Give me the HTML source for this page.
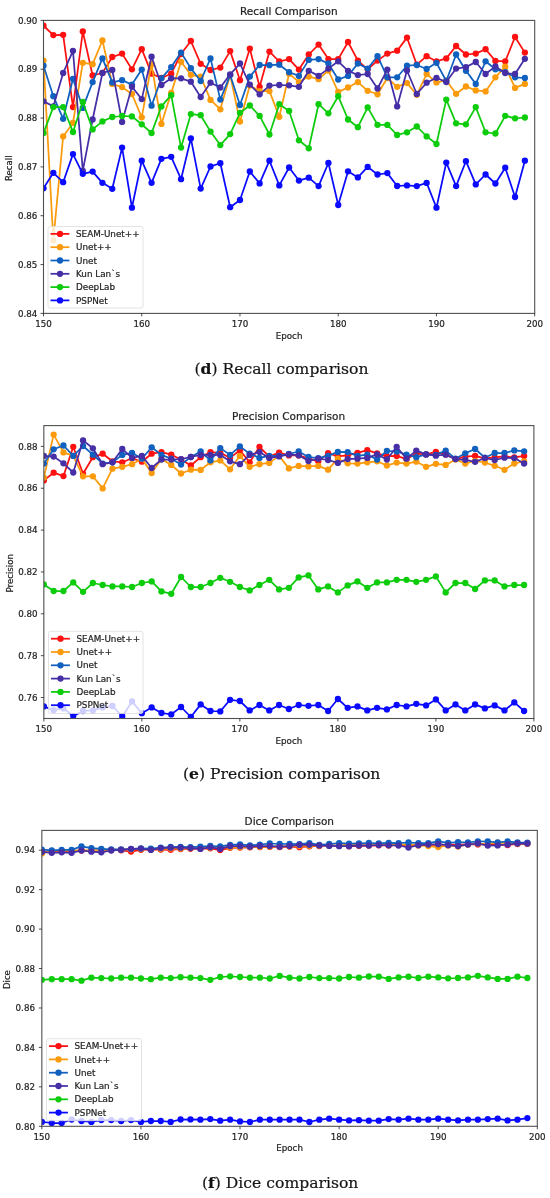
<!DOCTYPE html>
<html><head><meta charset="utf-8"><title>Comparison charts</title>
<style>
html,body{margin:0;padding:0;background:#fff;}
body{width:550px;height:1198px;overflow:hidden;}
svg{display:block;font-family:'DejaVu Sans', 'Liberation Sans', sans-serif;}
text{stroke:#2a2a2a;stroke-width:0.22px;}
</style></head><body>
<svg width="550" height="1198" viewBox="0 0 550 1198">
<rect width="550" height="1198" fill="#fff"/>
<clipPath id="c1"><rect x="43.5" y="20.4" width="491.20" height="293.00"/></clipPath>
<text x="288.8" y="14.7" font-size="10.5" text-anchor="middle" fill="#222">Recall Comparison</text>
<g clip-path="url(#c1)">
<polyline points="43.50,25.70 53.32,35.10 63.15,34.80 72.97,107.10 82.80,31.50 92.62,75.50 102.44,73.00 112.27,57.00 122.09,53.60 131.92,69.30 141.74,49.20 151.56,73.70 161.39,78.00 171.21,73.70 181.04,54.00 190.86,41.00 200.68,63.80 210.51,70.00 220.33,67.60 230.16,51.10 239.98,80.20 249.80,48.70 259.63,86.80 269.45,51.60 279.28,61.50 289.10,59.10 298.92,69.60 308.75,54.50 318.57,44.60 328.40,59.10 338.22,59.10 348.04,42.00 357.87,60.60 367.69,69.30 377.52,60.60 387.34,53.60 397.16,50.70 406.99,37.60 416.81,64.70 426.64,56.20 436.46,61.30 446.28,58.40 456.11,46.00 465.93,54.50 475.76,53.60 485.58,49.20 495.40,60.90 505.23,61.30 515.05,37.00 524.88,52.60" fill="none" stroke="#ff1010" stroke-width="1.75" stroke-linejoin="round"/>
<g fill="#ff1010"><circle cx="43.50" cy="25.70" r="3.15"/><circle cx="53.32" cy="35.10" r="3.15"/><circle cx="63.15" cy="34.80" r="3.15"/><circle cx="72.97" cy="107.10" r="3.15"/><circle cx="82.80" cy="31.50" r="3.15"/><circle cx="92.62" cy="75.50" r="3.15"/><circle cx="102.44" cy="73.00" r="3.15"/><circle cx="112.27" cy="57.00" r="3.15"/><circle cx="122.09" cy="53.60" r="3.15"/><circle cx="131.92" cy="69.30" r="3.15"/><circle cx="141.74" cy="49.20" r="3.15"/><circle cx="151.56" cy="73.70" r="3.15"/><circle cx="161.39" cy="78.00" r="3.15"/><circle cx="171.21" cy="73.70" r="3.15"/><circle cx="181.04" cy="54.00" r="3.15"/><circle cx="190.86" cy="41.00" r="3.15"/><circle cx="200.68" cy="63.80" r="3.15"/><circle cx="210.51" cy="70.00" r="3.15"/><circle cx="220.33" cy="67.60" r="3.15"/><circle cx="230.16" cy="51.10" r="3.15"/><circle cx="239.98" cy="80.20" r="3.15"/><circle cx="249.80" cy="48.70" r="3.15"/><circle cx="259.63" cy="86.80" r="3.15"/><circle cx="269.45" cy="51.60" r="3.15"/><circle cx="279.28" cy="61.50" r="3.15"/><circle cx="289.10" cy="59.10" r="3.15"/><circle cx="298.92" cy="69.60" r="3.15"/><circle cx="308.75" cy="54.50" r="3.15"/><circle cx="318.57" cy="44.60" r="3.15"/><circle cx="328.40" cy="59.10" r="3.15"/><circle cx="338.22" cy="59.10" r="3.15"/><circle cx="348.04" cy="42.00" r="3.15"/><circle cx="357.87" cy="60.60" r="3.15"/><circle cx="367.69" cy="69.30" r="3.15"/><circle cx="377.52" cy="60.60" r="3.15"/><circle cx="387.34" cy="53.60" r="3.15"/><circle cx="397.16" cy="50.70" r="3.15"/><circle cx="406.99" cy="37.60" r="3.15"/><circle cx="416.81" cy="64.70" r="3.15"/><circle cx="426.64" cy="56.20" r="3.15"/><circle cx="436.46" cy="61.30" r="3.15"/><circle cx="446.28" cy="58.40" r="3.15"/><circle cx="456.11" cy="46.00" r="3.15"/><circle cx="465.93" cy="54.50" r="3.15"/><circle cx="475.76" cy="53.60" r="3.15"/><circle cx="485.58" cy="49.20" r="3.15"/><circle cx="495.40" cy="60.90" r="3.15"/><circle cx="505.23" cy="61.30" r="3.15"/><circle cx="515.05" cy="37.00" r="3.15"/><circle cx="524.88" cy="52.60" r="3.15"/></g>
<polyline points="43.50,60.60 53.32,240.50 63.15,136.40 72.97,122.90 82.80,62.80 92.62,64.20 102.44,40.50 112.27,83.90 122.09,87.10 131.92,94.00 141.74,117.30 151.56,64.20 161.39,123.90 171.21,93.00 181.04,61.80 190.86,74.80 200.68,76.60 210.51,99.90 220.33,109.30 230.16,75.10 239.98,121.50 249.80,85.50 259.63,91.10 269.45,91.10 279.28,116.80 289.10,73.70 298.92,82.10 308.75,76.60 318.57,79.20 328.40,70.50 338.22,91.90 348.04,87.50 357.87,82.10 367.69,90.80 377.52,94.30 387.34,78.00 397.16,86.80 406.99,83.10 416.81,94.80 426.64,74.00 436.46,82.40 446.28,80.50 456.11,93.80 465.93,86.50 475.76,90.40 485.58,91.40 495.40,77.30 505.23,66.70 515.05,87.90 524.88,83.90" fill="none" stroke="#fb9a0a" stroke-width="1.75" stroke-linejoin="round"/>
<g fill="#fb9a0a"><circle cx="43.50" cy="60.60" r="3.15"/><circle cx="53.32" cy="240.50" r="3.15"/><circle cx="63.15" cy="136.40" r="3.15"/><circle cx="72.97" cy="122.90" r="3.15"/><circle cx="82.80" cy="62.80" r="3.15"/><circle cx="92.62" cy="64.20" r="3.15"/><circle cx="102.44" cy="40.50" r="3.15"/><circle cx="112.27" cy="83.90" r="3.15"/><circle cx="122.09" cy="87.10" r="3.15"/><circle cx="131.92" cy="94.00" r="3.15"/><circle cx="141.74" cy="117.30" r="3.15"/><circle cx="151.56" cy="64.20" r="3.15"/><circle cx="161.39" cy="123.90" r="3.15"/><circle cx="171.21" cy="93.00" r="3.15"/><circle cx="181.04" cy="61.80" r="3.15"/><circle cx="190.86" cy="74.80" r="3.15"/><circle cx="200.68" cy="76.60" r="3.15"/><circle cx="210.51" cy="99.90" r="3.15"/><circle cx="220.33" cy="109.30" r="3.15"/><circle cx="230.16" cy="75.10" r="3.15"/><circle cx="239.98" cy="121.50" r="3.15"/><circle cx="249.80" cy="85.50" r="3.15"/><circle cx="259.63" cy="91.10" r="3.15"/><circle cx="269.45" cy="91.10" r="3.15"/><circle cx="279.28" cy="116.80" r="3.15"/><circle cx="289.10" cy="73.70" r="3.15"/><circle cx="298.92" cy="82.10" r="3.15"/><circle cx="308.75" cy="76.60" r="3.15"/><circle cx="318.57" cy="79.20" r="3.15"/><circle cx="328.40" cy="70.50" r="3.15"/><circle cx="338.22" cy="91.90" r="3.15"/><circle cx="348.04" cy="87.50" r="3.15"/><circle cx="357.87" cy="82.10" r="3.15"/><circle cx="367.69" cy="90.80" r="3.15"/><circle cx="377.52" cy="94.30" r="3.15"/><circle cx="387.34" cy="78.00" r="3.15"/><circle cx="397.16" cy="86.80" r="3.15"/><circle cx="406.99" cy="83.10" r="3.15"/><circle cx="416.81" cy="94.80" r="3.15"/><circle cx="426.64" cy="74.00" r="3.15"/><circle cx="436.46" cy="82.40" r="3.15"/><circle cx="446.28" cy="80.50" r="3.15"/><circle cx="456.11" cy="93.80" r="3.15"/><circle cx="465.93" cy="86.50" r="3.15"/><circle cx="475.76" cy="90.40" r="3.15"/><circle cx="485.58" cy="91.40" r="3.15"/><circle cx="495.40" cy="77.30" r="3.15"/><circle cx="505.23" cy="66.70" r="3.15"/><circle cx="515.05" cy="87.90" r="3.15"/><circle cx="524.88" cy="83.90" r="3.15"/></g>
<polyline points="43.50,65.70 53.32,96.20 63.15,118.80 72.97,78.80 82.80,107.90 92.62,82.10 102.44,58.40 112.27,82.40 122.09,80.20 131.92,84.60 141.74,69.60 151.56,105.70 161.39,78.30 171.21,67.10 181.04,52.60 190.86,68.20 200.68,81.00 210.51,58.40 220.33,99.60 230.16,75.10 239.98,105.00 249.80,76.60 259.63,65.00 269.45,65.20 279.28,64.70 289.10,72.20 298.92,75.90 308.75,59.90 318.57,59.10 328.40,63.50 338.22,79.50 348.04,75.90 357.87,63.50 367.69,68.60 377.52,56.20 387.34,77.30 397.16,77.30 406.99,65.70 416.81,65.00 426.64,69.00 436.46,62.80 446.28,81.00 456.11,54.50 465.93,70.80 475.76,83.90 485.58,61.30 495.40,69.30 505.23,72.20 515.05,77.30 524.88,78.00" fill="none" stroke="#1060bf" stroke-width="1.75" stroke-linejoin="round"/>
<g fill="#1060bf"><circle cx="43.50" cy="65.70" r="3.15"/><circle cx="53.32" cy="96.20" r="3.15"/><circle cx="63.15" cy="118.80" r="3.15"/><circle cx="72.97" cy="78.80" r="3.15"/><circle cx="82.80" cy="107.90" r="3.15"/><circle cx="92.62" cy="82.10" r="3.15"/><circle cx="102.44" cy="58.40" r="3.15"/><circle cx="112.27" cy="82.40" r="3.15"/><circle cx="122.09" cy="80.20" r="3.15"/><circle cx="131.92" cy="84.60" r="3.15"/><circle cx="141.74" cy="69.60" r="3.15"/><circle cx="151.56" cy="105.70" r="3.15"/><circle cx="161.39" cy="78.30" r="3.15"/><circle cx="171.21" cy="67.10" r="3.15"/><circle cx="181.04" cy="52.60" r="3.15"/><circle cx="190.86" cy="68.20" r="3.15"/><circle cx="200.68" cy="81.00" r="3.15"/><circle cx="210.51" cy="58.40" r="3.15"/><circle cx="220.33" cy="99.60" r="3.15"/><circle cx="230.16" cy="75.10" r="3.15"/><circle cx="239.98" cy="105.00" r="3.15"/><circle cx="249.80" cy="76.60" r="3.15"/><circle cx="259.63" cy="65.00" r="3.15"/><circle cx="269.45" cy="65.20" r="3.15"/><circle cx="279.28" cy="64.70" r="3.15"/><circle cx="289.10" cy="72.20" r="3.15"/><circle cx="298.92" cy="75.90" r="3.15"/><circle cx="308.75" cy="59.90" r="3.15"/><circle cx="318.57" cy="59.10" r="3.15"/><circle cx="328.40" cy="63.50" r="3.15"/><circle cx="338.22" cy="79.50" r="3.15"/><circle cx="348.04" cy="75.90" r="3.15"/><circle cx="357.87" cy="63.50" r="3.15"/><circle cx="367.69" cy="68.60" r="3.15"/><circle cx="377.52" cy="56.20" r="3.15"/><circle cx="387.34" cy="77.30" r="3.15"/><circle cx="397.16" cy="77.30" r="3.15"/><circle cx="406.99" cy="65.70" r="3.15"/><circle cx="416.81" cy="65.00" r="3.15"/><circle cx="426.64" cy="69.00" r="3.15"/><circle cx="436.46" cy="62.80" r="3.15"/><circle cx="446.28" cy="81.00" r="3.15"/><circle cx="456.11" cy="54.50" r="3.15"/><circle cx="465.93" cy="70.80" r="3.15"/><circle cx="475.76" cy="83.90" r="3.15"/><circle cx="485.58" cy="61.30" r="3.15"/><circle cx="495.40" cy="69.30" r="3.15"/><circle cx="505.23" cy="72.20" r="3.15"/><circle cx="515.05" cy="77.30" r="3.15"/><circle cx="524.88" cy="78.00" r="3.15"/></g>
<polyline points="43.50,101.30 53.32,106.40 63.15,73.00 72.97,50.80 82.80,170.90 92.62,119.50 102.44,73.00 112.27,70.00 122.09,121.90 131.92,86.80 141.74,99.10 151.56,56.70 161.39,85.00 171.21,78.30 181.04,78.30 190.86,81.70 200.68,97.00 210.51,82.70 220.33,87.50 230.16,74.40 239.98,63.50 249.80,84.60 259.63,94.30 269.45,85.60 279.28,85.00 289.10,85.30 298.92,86.80 308.75,70.80 318.57,75.90 328.40,68.60 338.22,61.30 348.04,70.80 357.87,75.10 367.69,74.00 377.52,88.50 387.34,69.60 397.16,106.40 406.99,70.50 416.81,94.00 426.64,82.70 436.46,77.80 446.28,82.10 456.11,68.60 465.93,67.10 475.76,62.00 485.58,74.00 495.40,66.40 505.23,73.00 515.05,74.00 524.88,58.80" fill="none" stroke="#452ea6" stroke-width="1.75" stroke-linejoin="round"/>
<g fill="#452ea6"><circle cx="43.50" cy="101.30" r="3.15"/><circle cx="53.32" cy="106.40" r="3.15"/><circle cx="63.15" cy="73.00" r="3.15"/><circle cx="72.97" cy="50.80" r="3.15"/><circle cx="82.80" cy="170.90" r="3.15"/><circle cx="92.62" cy="119.50" r="3.15"/><circle cx="102.44" cy="73.00" r="3.15"/><circle cx="112.27" cy="70.00" r="3.15"/><circle cx="122.09" cy="121.90" r="3.15"/><circle cx="131.92" cy="86.80" r="3.15"/><circle cx="141.74" cy="99.10" r="3.15"/><circle cx="151.56" cy="56.70" r="3.15"/><circle cx="161.39" cy="85.00" r="3.15"/><circle cx="171.21" cy="78.30" r="3.15"/><circle cx="181.04" cy="78.30" r="3.15"/><circle cx="190.86" cy="81.70" r="3.15"/><circle cx="200.68" cy="97.00" r="3.15"/><circle cx="210.51" cy="82.70" r="3.15"/><circle cx="220.33" cy="87.50" r="3.15"/><circle cx="230.16" cy="74.40" r="3.15"/><circle cx="239.98" cy="63.50" r="3.15"/><circle cx="249.80" cy="84.60" r="3.15"/><circle cx="259.63" cy="94.30" r="3.15"/><circle cx="269.45" cy="85.60" r="3.15"/><circle cx="279.28" cy="85.00" r="3.15"/><circle cx="289.10" cy="85.30" r="3.15"/><circle cx="298.92" cy="86.80" r="3.15"/><circle cx="308.75" cy="70.80" r="3.15"/><circle cx="318.57" cy="75.90" r="3.15"/><circle cx="328.40" cy="68.60" r="3.15"/><circle cx="338.22" cy="61.30" r="3.15"/><circle cx="348.04" cy="70.80" r="3.15"/><circle cx="357.87" cy="75.10" r="3.15"/><circle cx="367.69" cy="74.00" r="3.15"/><circle cx="377.52" cy="88.50" r="3.15"/><circle cx="387.34" cy="69.60" r="3.15"/><circle cx="397.16" cy="106.40" r="3.15"/><circle cx="406.99" cy="70.50" r="3.15"/><circle cx="416.81" cy="94.00" r="3.15"/><circle cx="426.64" cy="82.70" r="3.15"/><circle cx="436.46" cy="77.80" r="3.15"/><circle cx="446.28" cy="82.10" r="3.15"/><circle cx="456.11" cy="68.60" r="3.15"/><circle cx="465.93" cy="67.10" r="3.15"/><circle cx="475.76" cy="62.00" r="3.15"/><circle cx="485.58" cy="74.00" r="3.15"/><circle cx="495.40" cy="66.40" r="3.15"/><circle cx="505.23" cy="73.00" r="3.15"/><circle cx="515.05" cy="74.00" r="3.15"/><circle cx="524.88" cy="58.80" r="3.15"/></g>
<polyline points="43.50,133.00 53.32,107.10 63.15,107.10 72.97,132.00 82.80,102.00 92.62,129.40 102.44,121.40 112.27,117.00 122.09,116.00 131.92,116.40 141.74,124.30 151.56,133.00 161.39,106.40 171.21,95.20 181.04,147.60 190.86,114.10 200.68,115.20 210.51,131.60 220.33,145.10 230.16,134.10 239.98,112.80 249.80,105.50 259.63,115.90 269.45,134.50 279.28,104.20 289.10,111.00 298.92,140.30 308.75,148.30 318.57,104.20 328.40,113.30 338.22,96.20 348.04,119.50 357.87,127.20 367.69,107.40 377.52,124.80 387.34,124.90 397.16,135.00 406.99,132.30 416.81,126.50 426.64,136.40 436.46,144.00 446.28,99.60 456.11,123.30 465.93,124.30 475.76,107.10 485.58,132.30 495.40,133.50 505.23,115.80 515.05,118.30 524.88,117.50" fill="none" stroke="#0ccc0c" stroke-width="1.75" stroke-linejoin="round"/>
<g fill="#0ccc0c"><circle cx="43.50" cy="133.00" r="3.15"/><circle cx="53.32" cy="107.10" r="3.15"/><circle cx="63.15" cy="107.10" r="3.15"/><circle cx="72.97" cy="132.00" r="3.15"/><circle cx="82.80" cy="102.00" r="3.15"/><circle cx="92.62" cy="129.40" r="3.15"/><circle cx="102.44" cy="121.40" r="3.15"/><circle cx="112.27" cy="117.00" r="3.15"/><circle cx="122.09" cy="116.00" r="3.15"/><circle cx="131.92" cy="116.40" r="3.15"/><circle cx="141.74" cy="124.30" r="3.15"/><circle cx="151.56" cy="133.00" r="3.15"/><circle cx="161.39" cy="106.40" r="3.15"/><circle cx="171.21" cy="95.20" r="3.15"/><circle cx="181.04" cy="147.60" r="3.15"/><circle cx="190.86" cy="114.10" r="3.15"/><circle cx="200.68" cy="115.20" r="3.15"/><circle cx="210.51" cy="131.60" r="3.15"/><circle cx="220.33" cy="145.10" r="3.15"/><circle cx="230.16" cy="134.10" r="3.15"/><circle cx="239.98" cy="112.80" r="3.15"/><circle cx="249.80" cy="105.50" r="3.15"/><circle cx="259.63" cy="115.90" r="3.15"/><circle cx="269.45" cy="134.50" r="3.15"/><circle cx="279.28" cy="104.20" r="3.15"/><circle cx="289.10" cy="111.00" r="3.15"/><circle cx="298.92" cy="140.30" r="3.15"/><circle cx="308.75" cy="148.30" r="3.15"/><circle cx="318.57" cy="104.20" r="3.15"/><circle cx="328.40" cy="113.30" r="3.15"/><circle cx="338.22" cy="96.20" r="3.15"/><circle cx="348.04" cy="119.50" r="3.15"/><circle cx="357.87" cy="127.20" r="3.15"/><circle cx="367.69" cy="107.40" r="3.15"/><circle cx="377.52" cy="124.80" r="3.15"/><circle cx="387.34" cy="124.90" r="3.15"/><circle cx="397.16" cy="135.00" r="3.15"/><circle cx="406.99" cy="132.30" r="3.15"/><circle cx="416.81" cy="126.50" r="3.15"/><circle cx="426.64" cy="136.40" r="3.15"/><circle cx="436.46" cy="144.00" r="3.15"/><circle cx="446.28" cy="99.60" r="3.15"/><circle cx="456.11" cy="123.30" r="3.15"/><circle cx="465.93" cy="124.30" r="3.15"/><circle cx="475.76" cy="107.10" r="3.15"/><circle cx="485.58" cy="132.30" r="3.15"/><circle cx="495.40" cy="133.50" r="3.15"/><circle cx="505.23" cy="115.80" r="3.15"/><circle cx="515.05" cy="118.30" r="3.15"/><circle cx="524.88" cy="117.50" r="3.15"/></g>
<polyline points="43.50,188.30 53.32,172.80 63.15,182.20 72.97,154.10 82.80,173.80 92.62,171.60 102.44,182.80 112.27,188.80 122.09,147.60 131.92,207.70 141.74,160.70 151.56,182.80 161.39,158.80 171.21,156.80 181.04,179.20 190.86,138.40 200.68,188.60 210.51,166.50 220.33,163.20 230.16,207.20 239.98,200.00 249.80,171.50 259.63,183.40 269.45,160.70 279.28,185.40 289.10,167.50 298.92,180.60 308.75,177.70 318.57,186.10 328.40,163.00 338.22,205.00 348.04,171.30 357.87,177.40 367.69,166.90 377.52,174.50 387.34,173.10 397.16,186.00 406.99,185.40 416.81,186.10 426.64,182.90 436.46,207.70 446.28,162.60 456.11,186.10 465.93,161.20 475.76,184.40 485.58,174.50 495.40,183.50 505.23,167.70 515.05,197.00 524.88,160.70" fill="none" stroke="#0a0aff" stroke-width="1.75" stroke-linejoin="round"/>
<g fill="#0a0aff"><circle cx="43.50" cy="188.30" r="3.15"/><circle cx="53.32" cy="172.80" r="3.15"/><circle cx="63.15" cy="182.20" r="3.15"/><circle cx="72.97" cy="154.10" r="3.15"/><circle cx="82.80" cy="173.80" r="3.15"/><circle cx="92.62" cy="171.60" r="3.15"/><circle cx="102.44" cy="182.80" r="3.15"/><circle cx="112.27" cy="188.80" r="3.15"/><circle cx="122.09" cy="147.60" r="3.15"/><circle cx="131.92" cy="207.70" r="3.15"/><circle cx="141.74" cy="160.70" r="3.15"/><circle cx="151.56" cy="182.80" r="3.15"/><circle cx="161.39" cy="158.80" r="3.15"/><circle cx="171.21" cy="156.80" r="3.15"/><circle cx="181.04" cy="179.20" r="3.15"/><circle cx="190.86" cy="138.40" r="3.15"/><circle cx="200.68" cy="188.60" r="3.15"/><circle cx="210.51" cy="166.50" r="3.15"/><circle cx="220.33" cy="163.20" r="3.15"/><circle cx="230.16" cy="207.20" r="3.15"/><circle cx="239.98" cy="200.00" r="3.15"/><circle cx="249.80" cy="171.50" r="3.15"/><circle cx="259.63" cy="183.40" r="3.15"/><circle cx="269.45" cy="160.70" r="3.15"/><circle cx="279.28" cy="185.40" r="3.15"/><circle cx="289.10" cy="167.50" r="3.15"/><circle cx="298.92" cy="180.60" r="3.15"/><circle cx="308.75" cy="177.70" r="3.15"/><circle cx="318.57" cy="186.10" r="3.15"/><circle cx="328.40" cy="163.00" r="3.15"/><circle cx="338.22" cy="205.00" r="3.15"/><circle cx="348.04" cy="171.30" r="3.15"/><circle cx="357.87" cy="177.40" r="3.15"/><circle cx="367.69" cy="166.90" r="3.15"/><circle cx="377.52" cy="174.50" r="3.15"/><circle cx="387.34" cy="173.10" r="3.15"/><circle cx="397.16" cy="186.00" r="3.15"/><circle cx="406.99" cy="185.40" r="3.15"/><circle cx="416.81" cy="186.10" r="3.15"/><circle cx="426.64" cy="182.90" r="3.15"/><circle cx="436.46" cy="207.70" r="3.15"/><circle cx="446.28" cy="162.60" r="3.15"/><circle cx="456.11" cy="186.10" r="3.15"/><circle cx="465.93" cy="161.20" r="3.15"/><circle cx="475.76" cy="184.40" r="3.15"/><circle cx="485.58" cy="174.50" r="3.15"/><circle cx="495.40" cy="183.50" r="3.15"/><circle cx="505.23" cy="167.70" r="3.15"/><circle cx="515.05" cy="197.00" r="3.15"/><circle cx="524.88" cy="160.70" r="3.15"/></g>
</g>
<rect x="48" y="226.5" width="95" height="81.5" rx="2" fill="#fff" fill-opacity="0.8" stroke="#dcdcdc" stroke-width="0.8"/>
<line x1="50.5" y1="233.90" x2="69.4" y2="233.90" stroke="#ff1010" stroke-width="1.75"/>
<circle cx="60" cy="233.90" r="3.15" fill="#ff1010"/>
<text x="76" y="237.00" font-size="8.8" fill="#222">SEAM-Unet++</text>
<line x1="50.5" y1="247.20" x2="69.4" y2="247.20" stroke="#fb9a0a" stroke-width="1.75"/>
<circle cx="60" cy="247.20" r="3.15" fill="#fb9a0a"/>
<text x="76" y="250.30" font-size="8.8" fill="#222">Unet++</text>
<line x1="50.5" y1="260.50" x2="69.4" y2="260.50" stroke="#1060bf" stroke-width="1.75"/>
<circle cx="60" cy="260.50" r="3.15" fill="#1060bf"/>
<text x="76" y="263.60" font-size="8.8" fill="#222">Unet</text>
<line x1="50.5" y1="273.80" x2="69.4" y2="273.80" stroke="#452ea6" stroke-width="1.75"/>
<circle cx="60" cy="273.80" r="3.15" fill="#452ea6"/>
<text x="76" y="276.90" font-size="8.8" fill="#222">Kun Lan`s</text>
<line x1="50.5" y1="287.10" x2="69.4" y2="287.10" stroke="#0ccc0c" stroke-width="1.75"/>
<circle cx="60" cy="287.10" r="3.15" fill="#0ccc0c"/>
<text x="76" y="290.20" font-size="8.8" fill="#222">DeepLab</text>
<line x1="50.5" y1="300.40" x2="69.4" y2="300.40" stroke="#0a0aff" stroke-width="1.75"/>
<circle cx="60" cy="300.40" r="3.15" fill="#0a0aff"/>
<text x="76" y="303.50" font-size="8.8" fill="#222">PSPNet</text>
<rect x="43.5" y="20.4" width="491.20" height="293.00" fill="none" stroke="#505050" stroke-width="1.1"/>
<line x1="40.5" y1="20.4" x2="43.5" y2="20.4" stroke="#222" stroke-width="0.8"/>
<text x="37.30" y="23.60" font-size="8.7" text-anchor="end" fill="#222">0.90</text>
<line x1="40.5" y1="69.23333333333332" x2="43.5" y2="69.23333333333332" stroke="#222" stroke-width="0.8"/>
<text x="37.30" y="72.43" font-size="8.7" text-anchor="end" fill="#222">0.89</text>
<line x1="40.5" y1="118.06666666666666" x2="43.5" y2="118.06666666666666" stroke="#222" stroke-width="0.8"/>
<text x="37.30" y="121.27" font-size="8.7" text-anchor="end" fill="#222">0.88</text>
<line x1="40.5" y1="166.9" x2="43.5" y2="166.9" stroke="#222" stroke-width="0.8"/>
<text x="37.30" y="170.10" font-size="8.7" text-anchor="end" fill="#222">0.87</text>
<line x1="40.5" y1="215.73333333333332" x2="43.5" y2="215.73333333333332" stroke="#222" stroke-width="0.8"/>
<text x="37.30" y="218.93" font-size="8.7" text-anchor="end" fill="#222">0.86</text>
<line x1="40.5" y1="264.56666666666666" x2="43.5" y2="264.56666666666666" stroke="#222" stroke-width="0.8"/>
<text x="37.30" y="267.77" font-size="8.7" text-anchor="end" fill="#222">0.85</text>
<line x1="40.5" y1="313.4" x2="43.5" y2="313.4" stroke="#222" stroke-width="0.8"/>
<text x="37.30" y="316.60" font-size="8.7" text-anchor="end" fill="#222">0.84</text>
<line x1="43.50" y1="313.4" x2="43.50" y2="316.4" stroke="#222" stroke-width="0.8"/>
<text x="43.50" y="327.0" font-size="8.7" text-anchor="middle" fill="#222">150</text>
<line x1="141.74" y1="313.4" x2="141.74" y2="316.4" stroke="#222" stroke-width="0.8"/>
<text x="141.74" y="327.0" font-size="8.7" text-anchor="middle" fill="#222">160</text>
<line x1="239.98" y1="313.4" x2="239.98" y2="316.4" stroke="#222" stroke-width="0.8"/>
<text x="239.98" y="327.0" font-size="8.7" text-anchor="middle" fill="#222">170</text>
<line x1="338.22" y1="313.4" x2="338.22" y2="316.4" stroke="#222" stroke-width="0.8"/>
<text x="338.22" y="327.0" font-size="8.7" text-anchor="middle" fill="#222">180</text>
<line x1="436.46" y1="313.4" x2="436.46" y2="316.4" stroke="#222" stroke-width="0.8"/>
<text x="436.46" y="327.0" font-size="8.7" text-anchor="middle" fill="#222">190</text>
<line x1="534.70" y1="313.4" x2="534.70" y2="316.4" stroke="#222" stroke-width="0.8"/>
<text x="534.70" y="327.0" font-size="8.7" text-anchor="middle" fill="#222">200</text>
<text x="289.1" y="338.6" font-size="8.7" text-anchor="middle" fill="#222">Epoch</text>
<text transform="translate(12,168.2) rotate(-90)" font-size="8.6" text-anchor="middle" fill="#222">Recall</text>
<text x="194.5" y="373.8" font-family="'DejaVu Serif', 'Liberation Serif', serif" font-size="15.6" fill="#111">(<tspan font-weight="bold">d</tspan>) Recall comparison</text>
<clipPath id="c2"><rect x="43.85" y="425.6" width="490.05" height="292.90"/></clipPath>
<text x="288.6" y="420.0" font-size="10.5" text-anchor="middle" fill="#222">Precision Comparison</text>
<g clip-path="url(#c2)">
<polyline points="43.85,480.40 53.65,472.70 63.45,476.10 73.25,446.80 83.05,473.80 92.85,457.20 102.66,453.70 112.46,461.30 122.26,462.30 132.06,458.20 141.86,461.70 151.66,453.70 161.46,452.10 171.26,454.70 181.06,459.50 190.86,465.50 200.67,457.20 210.47,452.10 220.27,452.80 230.07,457.90 239.87,450.20 249.67,462.30 259.47,446.80 269.27,456.60 279.07,452.60 288.87,455.40 298.68,455.40 308.48,458.40 318.28,461.30 328.08,453.10 337.88,456.40 347.68,455.40 357.48,452.80 367.28,450.20 377.08,453.40 386.88,456.20 396.69,455.90 406.49,459.10 416.29,453.70 426.09,454.40 435.89,451.90 445.69,454.40 455.49,459.10 465.29,456.70 475.09,455.90 484.89,458.40 494.70,457.40 504.50,456.40 514.30,457.40 524.10,455.90" fill="none" stroke="#ff1010" stroke-width="1.75" stroke-linejoin="round"/>
<g fill="#ff1010"><circle cx="43.85" cy="480.40" r="3.15"/><circle cx="53.65" cy="472.70" r="3.15"/><circle cx="63.45" cy="476.10" r="3.15"/><circle cx="73.25" cy="446.80" r="3.15"/><circle cx="83.05" cy="473.80" r="3.15"/><circle cx="92.85" cy="457.20" r="3.15"/><circle cx="102.66" cy="453.70" r="3.15"/><circle cx="112.46" cy="461.30" r="3.15"/><circle cx="122.26" cy="462.30" r="3.15"/><circle cx="132.06" cy="458.20" r="3.15"/><circle cx="141.86" cy="461.70" r="3.15"/><circle cx="151.66" cy="453.70" r="3.15"/><circle cx="161.46" cy="452.10" r="3.15"/><circle cx="171.26" cy="454.70" r="3.15"/><circle cx="181.06" cy="459.50" r="3.15"/><circle cx="190.86" cy="465.50" r="3.15"/><circle cx="200.67" cy="457.20" r="3.15"/><circle cx="210.47" cy="452.10" r="3.15"/><circle cx="220.27" cy="452.80" r="3.15"/><circle cx="230.07" cy="457.90" r="3.15"/><circle cx="239.87" cy="450.20" r="3.15"/><circle cx="249.67" cy="462.30" r="3.15"/><circle cx="259.47" cy="446.80" r="3.15"/><circle cx="269.27" cy="456.60" r="3.15"/><circle cx="279.07" cy="452.60" r="3.15"/><circle cx="288.87" cy="455.40" r="3.15"/><circle cx="298.68" cy="455.40" r="3.15"/><circle cx="308.48" cy="458.40" r="3.15"/><circle cx="318.28" cy="461.30" r="3.15"/><circle cx="328.08" cy="453.10" r="3.15"/><circle cx="337.88" cy="456.40" r="3.15"/><circle cx="347.68" cy="455.40" r="3.15"/><circle cx="357.48" cy="452.80" r="3.15"/><circle cx="367.28" cy="450.20" r="3.15"/><circle cx="377.08" cy="453.40" r="3.15"/><circle cx="386.88" cy="456.20" r="3.15"/><circle cx="396.69" cy="455.90" r="3.15"/><circle cx="406.49" cy="459.10" r="3.15"/><circle cx="416.29" cy="453.70" r="3.15"/><circle cx="426.09" cy="454.40" r="3.15"/><circle cx="435.89" cy="451.90" r="3.15"/><circle cx="445.69" cy="454.40" r="3.15"/><circle cx="455.49" cy="459.10" r="3.15"/><circle cx="465.29" cy="456.70" r="3.15"/><circle cx="475.09" cy="455.90" r="3.15"/><circle cx="484.89" cy="458.40" r="3.15"/><circle cx="494.70" cy="457.40" r="3.15"/><circle cx="504.50" cy="456.40" r="3.15"/><circle cx="514.30" cy="457.40" r="3.15"/><circle cx="524.10" cy="455.90" r="3.15"/></g>
<polyline points="43.85,477.60 53.65,434.60 63.45,452.40 73.25,455.90 83.05,476.30 92.85,476.30 102.66,488.40 112.46,468.70 122.26,466.80 132.06,464.20 141.86,458.70 151.66,473.10 161.46,459.10 171.26,464.90 181.06,473.50 190.86,469.70 200.67,469.90 210.47,462.30 220.27,460.40 230.07,469.30 239.87,455.90 249.67,466.80 259.47,464.20 269.27,462.90 279.07,455.90 288.87,468.40 298.68,465.90 308.48,466.40 318.28,465.90 328.08,469.70 337.88,458.70 347.68,463.30 357.48,463.60 367.28,462.30 377.08,461.30 386.88,465.50 396.69,462.60 406.49,463.60 416.29,461.70 426.09,466.80 435.89,463.80 445.69,464.90 455.49,459.40 465.29,463.50 475.09,461.00 484.89,462.50 494.70,465.80 504.50,469.80 514.30,463.50 524.10,461.40" fill="none" stroke="#fb9a0a" stroke-width="1.75" stroke-linejoin="round"/>
<g fill="#fb9a0a"><circle cx="43.85" cy="477.60" r="3.15"/><circle cx="53.65" cy="434.60" r="3.15"/><circle cx="63.45" cy="452.40" r="3.15"/><circle cx="73.25" cy="455.90" r="3.15"/><circle cx="83.05" cy="476.30" r="3.15"/><circle cx="92.85" cy="476.30" r="3.15"/><circle cx="102.66" cy="488.40" r="3.15"/><circle cx="112.46" cy="468.70" r="3.15"/><circle cx="122.26" cy="466.80" r="3.15"/><circle cx="132.06" cy="464.20" r="3.15"/><circle cx="141.86" cy="458.70" r="3.15"/><circle cx="151.66" cy="473.10" r="3.15"/><circle cx="161.46" cy="459.10" r="3.15"/><circle cx="171.26" cy="464.90" r="3.15"/><circle cx="181.06" cy="473.50" r="3.15"/><circle cx="190.86" cy="469.70" r="3.15"/><circle cx="200.67" cy="469.90" r="3.15"/><circle cx="210.47" cy="462.30" r="3.15"/><circle cx="220.27" cy="460.40" r="3.15"/><circle cx="230.07" cy="469.30" r="3.15"/><circle cx="239.87" cy="455.90" r="3.15"/><circle cx="249.67" cy="466.80" r="3.15"/><circle cx="259.47" cy="464.20" r="3.15"/><circle cx="269.27" cy="462.90" r="3.15"/><circle cx="279.07" cy="455.90" r="3.15"/><circle cx="288.87" cy="468.40" r="3.15"/><circle cx="298.68" cy="465.90" r="3.15"/><circle cx="308.48" cy="466.40" r="3.15"/><circle cx="318.28" cy="465.90" r="3.15"/><circle cx="328.08" cy="469.70" r="3.15"/><circle cx="337.88" cy="458.70" r="3.15"/><circle cx="347.68" cy="463.30" r="3.15"/><circle cx="357.48" cy="463.60" r="3.15"/><circle cx="367.28" cy="462.30" r="3.15"/><circle cx="377.08" cy="461.30" r="3.15"/><circle cx="386.88" cy="465.50" r="3.15"/><circle cx="396.69" cy="462.60" r="3.15"/><circle cx="406.49" cy="463.60" r="3.15"/><circle cx="416.29" cy="461.70" r="3.15"/><circle cx="426.09" cy="466.80" r="3.15"/><circle cx="435.89" cy="463.80" r="3.15"/><circle cx="445.69" cy="464.90" r="3.15"/><circle cx="455.49" cy="459.40" r="3.15"/><circle cx="465.29" cy="463.50" r="3.15"/><circle cx="475.09" cy="461.00" r="3.15"/><circle cx="484.89" cy="462.50" r="3.15"/><circle cx="494.70" cy="465.80" r="3.15"/><circle cx="504.50" cy="469.80" r="3.15"/><circle cx="514.30" cy="463.50" r="3.15"/><circle cx="524.10" cy="461.40" r="3.15"/></g>
<polyline points="43.85,463.60 53.65,449.30 63.45,445.50 73.25,455.90 83.05,446.00 92.85,454.70 102.66,463.60 112.46,462.30 122.26,454.90 132.06,452.80 141.86,458.70 151.66,447.30 161.46,454.90 171.26,458.70 181.06,464.60 190.86,457.00 200.67,451.50 210.47,460.40 220.27,448.10 230.07,454.90 239.87,446.40 249.67,453.70 259.47,457.90 269.27,455.90 279.07,455.90 288.87,454.00 298.68,451.50 308.48,457.00 318.28,458.20 328.08,455.90 337.88,451.90 347.68,452.10 357.48,455.90 367.28,454.70 377.08,459.50 386.88,450.90 396.69,451.50 406.49,454.70 416.29,457.20 426.09,454.40 435.89,454.90 445.69,450.60 455.49,458.70 465.29,453.30 475.09,449.00 484.89,457.70 494.70,453.00 504.50,453.00 514.30,450.40 524.10,451.30" fill="none" stroke="#1060bf" stroke-width="1.75" stroke-linejoin="round"/>
<g fill="#1060bf"><circle cx="43.85" cy="463.60" r="3.15"/><circle cx="53.65" cy="449.30" r="3.15"/><circle cx="63.45" cy="445.50" r="3.15"/><circle cx="73.25" cy="455.90" r="3.15"/><circle cx="83.05" cy="446.00" r="3.15"/><circle cx="92.85" cy="454.70" r="3.15"/><circle cx="102.66" cy="463.60" r="3.15"/><circle cx="112.46" cy="462.30" r="3.15"/><circle cx="122.26" cy="454.90" r="3.15"/><circle cx="132.06" cy="452.80" r="3.15"/><circle cx="141.86" cy="458.70" r="3.15"/><circle cx="151.66" cy="447.30" r="3.15"/><circle cx="161.46" cy="454.90" r="3.15"/><circle cx="171.26" cy="458.70" r="3.15"/><circle cx="181.06" cy="464.60" r="3.15"/><circle cx="190.86" cy="457.00" r="3.15"/><circle cx="200.67" cy="451.50" r="3.15"/><circle cx="210.47" cy="460.40" r="3.15"/><circle cx="220.27" cy="448.10" r="3.15"/><circle cx="230.07" cy="454.90" r="3.15"/><circle cx="239.87" cy="446.40" r="3.15"/><circle cx="249.67" cy="453.70" r="3.15"/><circle cx="259.47" cy="457.90" r="3.15"/><circle cx="269.27" cy="455.90" r="3.15"/><circle cx="279.07" cy="455.90" r="3.15"/><circle cx="288.87" cy="454.00" r="3.15"/><circle cx="298.68" cy="451.50" r="3.15"/><circle cx="308.48" cy="457.00" r="3.15"/><circle cx="318.28" cy="458.20" r="3.15"/><circle cx="328.08" cy="455.90" r="3.15"/><circle cx="337.88" cy="451.90" r="3.15"/><circle cx="347.68" cy="452.10" r="3.15"/><circle cx="357.48" cy="455.90" r="3.15"/><circle cx="367.28" cy="454.70" r="3.15"/><circle cx="377.08" cy="459.50" r="3.15"/><circle cx="386.88" cy="450.90" r="3.15"/><circle cx="396.69" cy="451.50" r="3.15"/><circle cx="406.49" cy="454.70" r="3.15"/><circle cx="416.29" cy="457.20" r="3.15"/><circle cx="426.09" cy="454.40" r="3.15"/><circle cx="435.89" cy="454.90" r="3.15"/><circle cx="445.69" cy="450.60" r="3.15"/><circle cx="455.49" cy="458.70" r="3.15"/><circle cx="465.29" cy="453.30" r="3.15"/><circle cx="475.09" cy="449.00" r="3.15"/><circle cx="484.89" cy="457.70" r="3.15"/><circle cx="494.70" cy="453.00" r="3.15"/><circle cx="504.50" cy="453.00" r="3.15"/><circle cx="514.30" cy="450.40" r="3.15"/><circle cx="524.10" cy="451.30" r="3.15"/></g>
<polyline points="43.85,455.90 53.65,456.60 63.45,463.30 73.25,472.50 83.05,440.40 92.85,448.30 102.66,464.20 112.46,462.30 122.26,448.90 132.06,457.90 141.86,455.90 151.66,468.00 161.46,459.50 171.26,459.50 181.06,459.10 190.86,457.00 200.67,454.90 210.47,454.90 220.27,455.10 230.07,461.30 239.87,464.20 249.67,454.90 259.47,452.10 269.27,457.90 279.07,456.40 288.87,454.40 298.68,455.30 308.48,461.00 318.28,458.70 328.08,460.00 337.88,462.90 347.68,459.10 357.48,458.70 367.28,457.90 377.08,454.40 386.88,459.50 396.69,446.80 406.49,458.70 416.29,450.60 426.09,454.40 435.89,455.70 445.69,454.70 455.49,459.10 465.29,459.80 475.09,461.80 484.89,458.10 494.70,460.00 504.50,457.70 514.30,458.10 524.10,463.50" fill="none" stroke="#452ea6" stroke-width="1.75" stroke-linejoin="round"/>
<g fill="#452ea6"><circle cx="43.85" cy="455.90" r="3.15"/><circle cx="53.65" cy="456.60" r="3.15"/><circle cx="63.45" cy="463.30" r="3.15"/><circle cx="73.25" cy="472.50" r="3.15"/><circle cx="83.05" cy="440.40" r="3.15"/><circle cx="92.85" cy="448.30" r="3.15"/><circle cx="102.66" cy="464.20" r="3.15"/><circle cx="112.46" cy="462.30" r="3.15"/><circle cx="122.26" cy="448.90" r="3.15"/><circle cx="132.06" cy="457.90" r="3.15"/><circle cx="141.86" cy="455.90" r="3.15"/><circle cx="151.66" cy="468.00" r="3.15"/><circle cx="161.46" cy="459.50" r="3.15"/><circle cx="171.26" cy="459.50" r="3.15"/><circle cx="181.06" cy="459.10" r="3.15"/><circle cx="190.86" cy="457.00" r="3.15"/><circle cx="200.67" cy="454.90" r="3.15"/><circle cx="210.47" cy="454.90" r="3.15"/><circle cx="220.27" cy="455.10" r="3.15"/><circle cx="230.07" cy="461.30" r="3.15"/><circle cx="239.87" cy="464.20" r="3.15"/><circle cx="249.67" cy="454.90" r="3.15"/><circle cx="259.47" cy="452.10" r="3.15"/><circle cx="269.27" cy="457.90" r="3.15"/><circle cx="279.07" cy="456.40" r="3.15"/><circle cx="288.87" cy="454.40" r="3.15"/><circle cx="298.68" cy="455.30" r="3.15"/><circle cx="308.48" cy="461.00" r="3.15"/><circle cx="318.28" cy="458.70" r="3.15"/><circle cx="328.08" cy="460.00" r="3.15"/><circle cx="337.88" cy="462.90" r="3.15"/><circle cx="347.68" cy="459.10" r="3.15"/><circle cx="357.48" cy="458.70" r="3.15"/><circle cx="367.28" cy="457.90" r="3.15"/><circle cx="377.08" cy="454.40" r="3.15"/><circle cx="386.88" cy="459.50" r="3.15"/><circle cx="396.69" cy="446.80" r="3.15"/><circle cx="406.49" cy="458.70" r="3.15"/><circle cx="416.29" cy="450.60" r="3.15"/><circle cx="426.09" cy="454.40" r="3.15"/><circle cx="435.89" cy="455.70" r="3.15"/><circle cx="445.69" cy="454.70" r="3.15"/><circle cx="455.49" cy="459.10" r="3.15"/><circle cx="465.29" cy="459.80" r="3.15"/><circle cx="475.09" cy="461.80" r="3.15"/><circle cx="484.89" cy="458.10" r="3.15"/><circle cx="494.70" cy="460.00" r="3.15"/><circle cx="504.50" cy="457.70" r="3.15"/><circle cx="514.30" cy="458.10" r="3.15"/><circle cx="524.10" cy="463.50" r="3.15"/></g>
<polyline points="43.85,584.40 53.65,591.00 63.45,591.00 73.25,582.40 83.05,591.80 92.85,583.00 102.66,585.00 112.46,586.40 122.26,586.40 132.06,587.00 141.86,583.00 151.66,581.40 161.46,591.40 171.26,593.80 181.06,577.00 190.86,587.00 200.67,587.00 210.47,583.00 220.27,577.80 230.07,581.80 239.87,587.00 249.67,590.40 259.47,585.00 269.27,579.80 279.07,589.40 288.87,587.80 298.68,577.40 308.48,575.40 318.28,589.40 328.08,586.40 337.88,592.40 347.68,585.40 357.48,581.40 367.28,587.80 377.08,582.40 386.88,582.40 396.69,579.80 406.49,579.80 416.29,581.80 426.09,579.80 435.89,576.40 445.69,592.40 455.49,583.00 465.29,583.00 475.09,589.00 484.89,580.40 494.70,580.40 504.50,586.40 514.30,585.00 524.10,585.00" fill="none" stroke="#0ccc0c" stroke-width="1.75" stroke-linejoin="round"/>
<g fill="#0ccc0c"><circle cx="43.85" cy="584.40" r="3.15"/><circle cx="53.65" cy="591.00" r="3.15"/><circle cx="63.45" cy="591.00" r="3.15"/><circle cx="73.25" cy="582.40" r="3.15"/><circle cx="83.05" cy="591.80" r="3.15"/><circle cx="92.85" cy="583.00" r="3.15"/><circle cx="102.66" cy="585.00" r="3.15"/><circle cx="112.46" cy="586.40" r="3.15"/><circle cx="122.26" cy="586.40" r="3.15"/><circle cx="132.06" cy="587.00" r="3.15"/><circle cx="141.86" cy="583.00" r="3.15"/><circle cx="151.66" cy="581.40" r="3.15"/><circle cx="161.46" cy="591.40" r="3.15"/><circle cx="171.26" cy="593.80" r="3.15"/><circle cx="181.06" cy="577.00" r="3.15"/><circle cx="190.86" cy="587.00" r="3.15"/><circle cx="200.67" cy="587.00" r="3.15"/><circle cx="210.47" cy="583.00" r="3.15"/><circle cx="220.27" cy="577.80" r="3.15"/><circle cx="230.07" cy="581.80" r="3.15"/><circle cx="239.87" cy="587.00" r="3.15"/><circle cx="249.67" cy="590.40" r="3.15"/><circle cx="259.47" cy="585.00" r="3.15"/><circle cx="269.27" cy="579.80" r="3.15"/><circle cx="279.07" cy="589.40" r="3.15"/><circle cx="288.87" cy="587.80" r="3.15"/><circle cx="298.68" cy="577.40" r="3.15"/><circle cx="308.48" cy="575.40" r="3.15"/><circle cx="318.28" cy="589.40" r="3.15"/><circle cx="328.08" cy="586.40" r="3.15"/><circle cx="337.88" cy="592.40" r="3.15"/><circle cx="347.68" cy="585.40" r="3.15"/><circle cx="357.48" cy="581.40" r="3.15"/><circle cx="367.28" cy="587.80" r="3.15"/><circle cx="377.08" cy="582.40" r="3.15"/><circle cx="386.88" cy="582.40" r="3.15"/><circle cx="396.69" cy="579.80" r="3.15"/><circle cx="406.49" cy="579.80" r="3.15"/><circle cx="416.29" cy="581.80" r="3.15"/><circle cx="426.09" cy="579.80" r="3.15"/><circle cx="435.89" cy="576.40" r="3.15"/><circle cx="445.69" cy="592.40" r="3.15"/><circle cx="455.49" cy="583.00" r="3.15"/><circle cx="465.29" cy="583.00" r="3.15"/><circle cx="475.09" cy="589.00" r="3.15"/><circle cx="484.89" cy="580.40" r="3.15"/><circle cx="494.70" cy="580.40" r="3.15"/><circle cx="504.50" cy="586.40" r="3.15"/><circle cx="514.30" cy="585.00" r="3.15"/><circle cx="524.10" cy="585.00" r="3.15"/></g>
<polyline points="43.85,706.40 53.65,710.20 63.45,708.40 73.25,716.00 83.05,711.00 92.85,710.40 102.66,707.40 112.46,706.00 122.26,716.40 132.06,701.40 141.86,713.20 151.66,707.40 161.46,713.00 171.26,714.40 181.06,707.00 190.86,717.00 200.67,704.40 210.47,711.00 220.27,711.40 230.07,699.80 239.87,701.00 249.67,710.40 259.47,705.00 269.27,710.40 279.07,705.00 288.87,709.00 298.68,705.00 308.48,705.80 318.28,705.00 328.08,711.00 337.88,699.00 347.68,707.80 357.48,706.40 367.28,710.40 377.08,707.80 386.88,709.40 396.69,705.00 406.49,706.40 416.29,703.80 426.09,705.40 435.89,699.40 445.69,710.40 455.49,704.40 465.29,710.40 475.09,704.40 484.89,708.40 494.70,705.40 504.50,710.40 514.30,702.40 524.10,711.00" fill="none" stroke="#0a0aff" stroke-width="1.75" stroke-linejoin="round"/>
<g fill="#0a0aff"><circle cx="43.85" cy="706.40" r="3.15"/><circle cx="53.65" cy="710.20" r="3.15"/><circle cx="63.45" cy="708.40" r="3.15"/><circle cx="73.25" cy="716.00" r="3.15"/><circle cx="83.05" cy="711.00" r="3.15"/><circle cx="92.85" cy="710.40" r="3.15"/><circle cx="102.66" cy="707.40" r="3.15"/><circle cx="112.46" cy="706.00" r="3.15"/><circle cx="122.26" cy="716.40" r="3.15"/><circle cx="132.06" cy="701.40" r="3.15"/><circle cx="141.86" cy="713.20" r="3.15"/><circle cx="151.66" cy="707.40" r="3.15"/><circle cx="161.46" cy="713.00" r="3.15"/><circle cx="171.26" cy="714.40" r="3.15"/><circle cx="181.06" cy="707.00" r="3.15"/><circle cx="190.86" cy="717.00" r="3.15"/><circle cx="200.67" cy="704.40" r="3.15"/><circle cx="210.47" cy="711.00" r="3.15"/><circle cx="220.27" cy="711.40" r="3.15"/><circle cx="230.07" cy="699.80" r="3.15"/><circle cx="239.87" cy="701.00" r="3.15"/><circle cx="249.67" cy="710.40" r="3.15"/><circle cx="259.47" cy="705.00" r="3.15"/><circle cx="269.27" cy="710.40" r="3.15"/><circle cx="279.07" cy="705.00" r="3.15"/><circle cx="288.87" cy="709.00" r="3.15"/><circle cx="298.68" cy="705.00" r="3.15"/><circle cx="308.48" cy="705.80" r="3.15"/><circle cx="318.28" cy="705.00" r="3.15"/><circle cx="328.08" cy="711.00" r="3.15"/><circle cx="337.88" cy="699.00" r="3.15"/><circle cx="347.68" cy="707.80" r="3.15"/><circle cx="357.48" cy="706.40" r="3.15"/><circle cx="367.28" cy="710.40" r="3.15"/><circle cx="377.08" cy="707.80" r="3.15"/><circle cx="386.88" cy="709.40" r="3.15"/><circle cx="396.69" cy="705.00" r="3.15"/><circle cx="406.49" cy="706.40" r="3.15"/><circle cx="416.29" cy="703.80" r="3.15"/><circle cx="426.09" cy="705.40" r="3.15"/><circle cx="435.89" cy="699.40" r="3.15"/><circle cx="445.69" cy="710.40" r="3.15"/><circle cx="455.49" cy="704.40" r="3.15"/><circle cx="465.29" cy="710.40" r="3.15"/><circle cx="475.09" cy="704.40" r="3.15"/><circle cx="484.89" cy="708.40" r="3.15"/><circle cx="494.70" cy="705.40" r="3.15"/><circle cx="504.50" cy="710.40" r="3.15"/><circle cx="514.30" cy="702.40" r="3.15"/><circle cx="524.10" cy="711.00" r="3.15"/></g>
</g>
<rect x="48.5" y="631.3" width="94.5" height="82.2" rx="2" fill="#fff" fill-opacity="0.8" stroke="#dcdcdc" stroke-width="0.8"/>
<line x1="51.0" y1="638.70" x2="69.9" y2="638.70" stroke="#ff1010" stroke-width="1.75"/>
<circle cx="60.5" cy="638.70" r="3.15" fill="#ff1010"/>
<text x="76.5" y="641.80" font-size="8.8" fill="#222">SEAM-Unet++</text>
<line x1="51.0" y1="652.00" x2="69.9" y2="652.00" stroke="#fb9a0a" stroke-width="1.75"/>
<circle cx="60.5" cy="652.00" r="3.15" fill="#fb9a0a"/>
<text x="76.5" y="655.10" font-size="8.8" fill="#222">Unet++</text>
<line x1="51.0" y1="665.30" x2="69.9" y2="665.30" stroke="#1060bf" stroke-width="1.75"/>
<circle cx="60.5" cy="665.30" r="3.15" fill="#1060bf"/>
<text x="76.5" y="668.40" font-size="8.8" fill="#222">Unet</text>
<line x1="51.0" y1="678.60" x2="69.9" y2="678.60" stroke="#452ea6" stroke-width="1.75"/>
<circle cx="60.5" cy="678.60" r="3.15" fill="#452ea6"/>
<text x="76.5" y="681.70" font-size="8.8" fill="#222">Kun Lan`s</text>
<line x1="51.0" y1="691.90" x2="69.9" y2="691.90" stroke="#0ccc0c" stroke-width="1.75"/>
<circle cx="60.5" cy="691.90" r="3.15" fill="#0ccc0c"/>
<text x="76.5" y="695.00" font-size="8.8" fill="#222">DeepLab</text>
<line x1="51.0" y1="705.20" x2="69.9" y2="705.20" stroke="#0a0aff" stroke-width="1.75"/>
<circle cx="60.5" cy="705.20" r="3.15" fill="#0a0aff"/>
<text x="76.5" y="708.30" font-size="8.8" fill="#222">PSPNet</text>
<rect x="43.85" y="425.6" width="490.05" height="292.90" fill="none" stroke="#505050" stroke-width="1.1"/>
<line x1="40.85" y1="446.4" x2="43.85" y2="446.4" stroke="#222" stroke-width="0.8"/>
<text x="37.65" y="449.60" font-size="8.7" text-anchor="end" fill="#222">0.88</text>
<line x1="40.85" y1="488.25" x2="43.85" y2="488.25" stroke="#222" stroke-width="0.8"/>
<text x="37.65" y="491.45" font-size="8.7" text-anchor="end" fill="#222">0.86</text>
<line x1="40.85" y1="530.1" x2="43.85" y2="530.1" stroke="#222" stroke-width="0.8"/>
<text x="37.65" y="533.30" font-size="8.7" text-anchor="end" fill="#222">0.84</text>
<line x1="40.85" y1="571.95" x2="43.85" y2="571.95" stroke="#222" stroke-width="0.8"/>
<text x="37.65" y="575.15" font-size="8.7" text-anchor="end" fill="#222">0.82</text>
<line x1="40.85" y1="613.8" x2="43.85" y2="613.8" stroke="#222" stroke-width="0.8"/>
<text x="37.65" y="617.00" font-size="8.7" text-anchor="end" fill="#222">0.80</text>
<line x1="40.85" y1="655.65" x2="43.85" y2="655.65" stroke="#222" stroke-width="0.8"/>
<text x="37.65" y="658.85" font-size="8.7" text-anchor="end" fill="#222">0.78</text>
<line x1="40.85" y1="697.5" x2="43.85" y2="697.5" stroke="#222" stroke-width="0.8"/>
<text x="37.65" y="700.70" font-size="8.7" text-anchor="end" fill="#222">0.76</text>
<line x1="43.85" y1="718.5" x2="43.85" y2="721.5" stroke="#222" stroke-width="0.8"/>
<text x="43.85" y="732.1" font-size="8.7" text-anchor="middle" fill="#222">150</text>
<line x1="141.86" y1="718.5" x2="141.86" y2="721.5" stroke="#222" stroke-width="0.8"/>
<text x="141.86" y="732.1" font-size="8.7" text-anchor="middle" fill="#222">160</text>
<line x1="239.87" y1="718.5" x2="239.87" y2="721.5" stroke="#222" stroke-width="0.8"/>
<text x="239.87" y="732.1" font-size="8.7" text-anchor="middle" fill="#222">170</text>
<line x1="337.88" y1="718.5" x2="337.88" y2="721.5" stroke="#222" stroke-width="0.8"/>
<text x="337.88" y="732.1" font-size="8.7" text-anchor="middle" fill="#222">180</text>
<line x1="435.89" y1="718.5" x2="435.89" y2="721.5" stroke="#222" stroke-width="0.8"/>
<text x="435.89" y="732.1" font-size="8.7" text-anchor="middle" fill="#222">190</text>
<line x1="533.90" y1="718.5" x2="533.90" y2="721.5" stroke="#222" stroke-width="0.8"/>
<text x="533.90" y="732.1" font-size="8.7" text-anchor="middle" fill="#222">200</text>
<text x="288.9" y="743.7" font-size="8.7" text-anchor="middle" fill="#222">Epoch</text>
<text transform="translate(12.5,573.3) rotate(-90)" font-size="8.6" text-anchor="middle" fill="#222">Precision</text>
<text x="183" y="778.5" font-family="'DejaVu Serif', 'Liberation Serif', serif" font-size="15.6" fill="#111">(<tspan font-weight="bold">e</tspan>) Precision comparison</text>
<clipPath id="c3"><rect x="41.85" y="830.4" width="495.45" height="295.90"/></clipPath>
<text x="289.3" y="824.6" font-size="10.5" text-anchor="middle" fill="#222">Dice Comparison</text>
<g clip-path="url(#c3)">
<polyline points="41.85,852.60 51.76,851.30 61.67,851.60 71.58,851.00 81.49,850.60 91.39,850.80 101.30,850.30 111.21,850.00 121.12,850.30 131.03,851.60 140.94,849.80 150.85,849.30 160.76,849.60 170.67,849.80 180.58,849.00 190.48,848.80 200.39,848.60 210.30,848.30 220.21,850.10 230.12,847.80 240.03,847.60 249.94,847.30 259.85,847.10 269.76,846.80 279.67,847.00 289.57,846.60 299.48,847.20 309.39,846.30 319.30,846.00 329.21,845.30 339.12,845.80 349.03,846.30 358.94,845.80 368.85,845.60 378.76,845.30 388.66,845.40 398.57,845.10 408.48,845.00 418.39,845.20 428.30,844.80 438.21,845.00 448.12,844.60 458.03,844.80 467.94,844.30 477.85,844.40 487.75,844.10 497.66,844.30 507.57,845.00 517.48,844.00 527.39,843.80" fill="none" stroke="#ff1010" stroke-width="1.75" stroke-linejoin="round"/>
<g fill="#ff1010"><circle cx="41.85" cy="852.60" r="3.15"/><circle cx="51.76" cy="851.30" r="3.15"/><circle cx="61.67" cy="851.60" r="3.15"/><circle cx="71.58" cy="851.00" r="3.15"/><circle cx="81.49" cy="850.60" r="3.15"/><circle cx="91.39" cy="850.80" r="3.15"/><circle cx="101.30" cy="850.30" r="3.15"/><circle cx="111.21" cy="850.00" r="3.15"/><circle cx="121.12" cy="850.30" r="3.15"/><circle cx="131.03" cy="851.60" r="3.15"/><circle cx="140.94" cy="849.80" r="3.15"/><circle cx="150.85" cy="849.30" r="3.15"/><circle cx="160.76" cy="849.60" r="3.15"/><circle cx="170.67" cy="849.80" r="3.15"/><circle cx="180.58" cy="849.00" r="3.15"/><circle cx="190.48" cy="848.80" r="3.15"/><circle cx="200.39" cy="848.60" r="3.15"/><circle cx="210.30" cy="848.30" r="3.15"/><circle cx="220.21" cy="850.10" r="3.15"/><circle cx="230.12" cy="847.80" r="3.15"/><circle cx="240.03" cy="847.60" r="3.15"/><circle cx="249.94" cy="847.30" r="3.15"/><circle cx="259.85" cy="847.10" r="3.15"/><circle cx="269.76" cy="846.80" r="3.15"/><circle cx="279.67" cy="847.00" r="3.15"/><circle cx="289.57" cy="846.60" r="3.15"/><circle cx="299.48" cy="847.20" r="3.15"/><circle cx="309.39" cy="846.30" r="3.15"/><circle cx="319.30" cy="846.00" r="3.15"/><circle cx="329.21" cy="845.30" r="3.15"/><circle cx="339.12" cy="845.80" r="3.15"/><circle cx="349.03" cy="846.30" r="3.15"/><circle cx="358.94" cy="845.80" r="3.15"/><circle cx="368.85" cy="845.60" r="3.15"/><circle cx="378.76" cy="845.30" r="3.15"/><circle cx="388.66" cy="845.40" r="3.15"/><circle cx="398.57" cy="845.10" r="3.15"/><circle cx="408.48" cy="845.00" r="3.15"/><circle cx="418.39" cy="845.20" r="3.15"/><circle cx="428.30" cy="844.80" r="3.15"/><circle cx="438.21" cy="845.00" r="3.15"/><circle cx="448.12" cy="844.60" r="3.15"/><circle cx="458.03" cy="844.80" r="3.15"/><circle cx="467.94" cy="844.30" r="3.15"/><circle cx="477.85" cy="844.40" r="3.15"/><circle cx="487.75" cy="844.10" r="3.15"/><circle cx="497.66" cy="844.30" r="3.15"/><circle cx="507.57" cy="845.00" r="3.15"/><circle cx="517.48" cy="844.00" r="3.15"/><circle cx="527.39" cy="843.80" r="3.15"/></g>
<polyline points="41.85,853.40 51.76,851.00 61.67,850.50 71.58,850.80 81.49,850.20 91.39,850.50 101.30,850.00 111.21,849.80 121.12,849.60 131.03,849.40 140.94,849.20 150.85,849.20 160.76,848.80 170.67,848.60 180.58,848.50 190.48,848.20 200.39,848.00 210.30,847.80 220.21,847.60 230.12,847.40 240.03,847.20 249.94,847.00 259.85,846.80 269.76,846.60 279.67,846.40 289.57,846.20 299.48,846.00 309.39,845.80 319.30,845.60 329.21,845.50 339.12,845.30 349.03,844.60 358.94,845.00 368.85,845.20 378.76,844.80 388.66,844.60 398.57,844.80 408.48,844.50 418.39,845.40 428.30,846.10 438.21,847.10 448.12,845.50 458.03,846.50 467.94,844.50 477.85,843.80 487.75,843.50 497.66,842.70 507.57,843.20 517.48,843.50 527.39,843.40" fill="none" stroke="#fb9a0a" stroke-width="1.75" stroke-linejoin="round"/>
<g fill="#fb9a0a"><circle cx="41.85" cy="853.40" r="3.15"/><circle cx="51.76" cy="851.00" r="3.15"/><circle cx="61.67" cy="850.50" r="3.15"/><circle cx="71.58" cy="850.80" r="3.15"/><circle cx="81.49" cy="850.20" r="3.15"/><circle cx="91.39" cy="850.50" r="3.15"/><circle cx="101.30" cy="850.00" r="3.15"/><circle cx="111.21" cy="849.80" r="3.15"/><circle cx="121.12" cy="849.60" r="3.15"/><circle cx="131.03" cy="849.40" r="3.15"/><circle cx="140.94" cy="849.20" r="3.15"/><circle cx="150.85" cy="849.20" r="3.15"/><circle cx="160.76" cy="848.80" r="3.15"/><circle cx="170.67" cy="848.60" r="3.15"/><circle cx="180.58" cy="848.50" r="3.15"/><circle cx="190.48" cy="848.20" r="3.15"/><circle cx="200.39" cy="848.00" r="3.15"/><circle cx="210.30" cy="847.80" r="3.15"/><circle cx="220.21" cy="847.60" r="3.15"/><circle cx="230.12" cy="847.40" r="3.15"/><circle cx="240.03" cy="847.20" r="3.15"/><circle cx="249.94" cy="847.00" r="3.15"/><circle cx="259.85" cy="846.80" r="3.15"/><circle cx="269.76" cy="846.60" r="3.15"/><circle cx="279.67" cy="846.40" r="3.15"/><circle cx="289.57" cy="846.20" r="3.15"/><circle cx="299.48" cy="846.00" r="3.15"/><circle cx="309.39" cy="845.80" r="3.15"/><circle cx="319.30" cy="845.60" r="3.15"/><circle cx="329.21" cy="845.50" r="3.15"/><circle cx="339.12" cy="845.30" r="3.15"/><circle cx="349.03" cy="844.60" r="3.15"/><circle cx="358.94" cy="845.00" r="3.15"/><circle cx="368.85" cy="845.20" r="3.15"/><circle cx="378.76" cy="844.80" r="3.15"/><circle cx="388.66" cy="844.60" r="3.15"/><circle cx="398.57" cy="844.80" r="3.15"/><circle cx="408.48" cy="844.50" r="3.15"/><circle cx="418.39" cy="845.40" r="3.15"/><circle cx="428.30" cy="846.10" r="3.15"/><circle cx="438.21" cy="847.10" r="3.15"/><circle cx="448.12" cy="845.50" r="3.15"/><circle cx="458.03" cy="846.50" r="3.15"/><circle cx="467.94" cy="844.50" r="3.15"/><circle cx="477.85" cy="843.80" r="3.15"/><circle cx="487.75" cy="843.50" r="3.15"/><circle cx="497.66" cy="842.70" r="3.15"/><circle cx="507.57" cy="843.20" r="3.15"/><circle cx="517.48" cy="843.50" r="3.15"/><circle cx="527.39" cy="843.40" r="3.15"/></g>
<polyline points="41.85,849.70 51.76,850.30 61.67,849.90 71.58,849.90 81.49,846.40 91.39,848.10 101.30,848.80 111.21,849.30 121.12,849.30 131.03,849.10 140.94,848.30 150.85,848.60 160.76,847.60 170.67,847.00 180.58,846.80 190.48,847.10 200.39,846.60 210.30,846.00 220.21,846.40 230.12,844.80 240.03,844.30 249.94,845.30 259.85,844.60 269.76,843.50 279.67,844.00 289.57,843.80 299.48,844.10 309.39,843.20 319.30,844.80 329.21,844.00 339.12,843.20 349.03,843.70 358.94,843.30 368.85,843.00 378.76,843.40 388.66,842.80 398.57,843.20 408.48,842.50 418.39,843.20 428.30,843.10 438.21,841.30 448.12,842.80 458.03,842.10 467.94,842.50 477.85,841.30 487.75,841.50 497.66,842.40 507.57,841.50 517.48,842.30 527.39,842.60" fill="none" stroke="#1060bf" stroke-width="1.75" stroke-linejoin="round"/>
<g fill="#1060bf"><circle cx="41.85" cy="849.70" r="3.15"/><circle cx="51.76" cy="850.30" r="3.15"/><circle cx="61.67" cy="849.90" r="3.15"/><circle cx="71.58" cy="849.90" r="3.15"/><circle cx="81.49" cy="846.40" r="3.15"/><circle cx="91.39" cy="848.10" r="3.15"/><circle cx="101.30" cy="848.80" r="3.15"/><circle cx="111.21" cy="849.30" r="3.15"/><circle cx="121.12" cy="849.30" r="3.15"/><circle cx="131.03" cy="849.10" r="3.15"/><circle cx="140.94" cy="848.30" r="3.15"/><circle cx="150.85" cy="848.60" r="3.15"/><circle cx="160.76" cy="847.60" r="3.15"/><circle cx="170.67" cy="847.00" r="3.15"/><circle cx="180.58" cy="846.80" r="3.15"/><circle cx="190.48" cy="847.10" r="3.15"/><circle cx="200.39" cy="846.60" r="3.15"/><circle cx="210.30" cy="846.00" r="3.15"/><circle cx="220.21" cy="846.40" r="3.15"/><circle cx="230.12" cy="844.80" r="3.15"/><circle cx="240.03" cy="844.30" r="3.15"/><circle cx="249.94" cy="845.30" r="3.15"/><circle cx="259.85" cy="844.60" r="3.15"/><circle cx="269.76" cy="843.50" r="3.15"/><circle cx="279.67" cy="844.00" r="3.15"/><circle cx="289.57" cy="843.80" r="3.15"/><circle cx="299.48" cy="844.10" r="3.15"/><circle cx="309.39" cy="843.20" r="3.15"/><circle cx="319.30" cy="844.80" r="3.15"/><circle cx="329.21" cy="844.00" r="3.15"/><circle cx="339.12" cy="843.20" r="3.15"/><circle cx="349.03" cy="843.70" r="3.15"/><circle cx="358.94" cy="843.30" r="3.15"/><circle cx="368.85" cy="843.00" r="3.15"/><circle cx="378.76" cy="843.40" r="3.15"/><circle cx="388.66" cy="842.80" r="3.15"/><circle cx="398.57" cy="843.20" r="3.15"/><circle cx="408.48" cy="842.50" r="3.15"/><circle cx="418.39" cy="843.20" r="3.15"/><circle cx="428.30" cy="843.10" r="3.15"/><circle cx="438.21" cy="841.30" r="3.15"/><circle cx="448.12" cy="842.80" r="3.15"/><circle cx="458.03" cy="842.10" r="3.15"/><circle cx="467.94" cy="842.50" r="3.15"/><circle cx="477.85" cy="841.30" r="3.15"/><circle cx="487.75" cy="841.50" r="3.15"/><circle cx="497.66" cy="842.40" r="3.15"/><circle cx="507.57" cy="841.50" r="3.15"/><circle cx="517.48" cy="842.30" r="3.15"/><circle cx="527.39" cy="842.60" r="3.15"/></g>
<polyline points="41.85,852.00 51.76,852.80 61.67,852.30 71.58,852.80 81.49,850.50 91.39,851.70 101.30,852.30 111.21,850.50 121.12,849.90 131.03,848.80 140.94,848.60 150.85,849.90 160.76,848.10 170.67,847.70 180.58,847.70 190.48,848.10 200.39,848.90 210.30,847.30 220.21,848.90 230.12,846.20 240.03,846.20 249.94,846.70 259.85,846.00 269.76,846.00 279.67,846.70 289.57,846.00 299.48,844.90 309.39,844.80 319.30,845.40 329.21,845.90 339.12,846.20 349.03,846.20 358.94,845.40 368.85,845.60 378.76,845.00 388.66,845.30 398.57,845.50 408.48,847.50 418.39,845.20 428.30,844.60 438.21,844.20 448.12,845.20 458.03,846.10 467.94,844.60 477.85,843.50 487.75,845.60 497.66,845.40 507.57,844.50 517.48,843.50 527.39,843.50" fill="none" stroke="#452ea6" stroke-width="1.75" stroke-linejoin="round"/>
<g fill="#452ea6"><circle cx="41.85" cy="852.00" r="3.15"/><circle cx="51.76" cy="852.80" r="3.15"/><circle cx="61.67" cy="852.30" r="3.15"/><circle cx="71.58" cy="852.80" r="3.15"/><circle cx="81.49" cy="850.50" r="3.15"/><circle cx="91.39" cy="851.70" r="3.15"/><circle cx="101.30" cy="852.30" r="3.15"/><circle cx="111.21" cy="850.50" r="3.15"/><circle cx="121.12" cy="849.90" r="3.15"/><circle cx="131.03" cy="848.80" r="3.15"/><circle cx="140.94" cy="848.60" r="3.15"/><circle cx="150.85" cy="849.90" r="3.15"/><circle cx="160.76" cy="848.10" r="3.15"/><circle cx="170.67" cy="847.70" r="3.15"/><circle cx="180.58" cy="847.70" r="3.15"/><circle cx="190.48" cy="848.10" r="3.15"/><circle cx="200.39" cy="848.90" r="3.15"/><circle cx="210.30" cy="847.30" r="3.15"/><circle cx="220.21" cy="848.90" r="3.15"/><circle cx="230.12" cy="846.20" r="3.15"/><circle cx="240.03" cy="846.20" r="3.15"/><circle cx="249.94" cy="846.70" r="3.15"/><circle cx="259.85" cy="846.00" r="3.15"/><circle cx="269.76" cy="846.00" r="3.15"/><circle cx="279.67" cy="846.70" r="3.15"/><circle cx="289.57" cy="846.00" r="3.15"/><circle cx="299.48" cy="844.90" r="3.15"/><circle cx="309.39" cy="844.80" r="3.15"/><circle cx="319.30" cy="845.40" r="3.15"/><circle cx="329.21" cy="845.90" r="3.15"/><circle cx="339.12" cy="846.20" r="3.15"/><circle cx="349.03" cy="846.20" r="3.15"/><circle cx="358.94" cy="845.40" r="3.15"/><circle cx="368.85" cy="845.60" r="3.15"/><circle cx="378.76" cy="845.00" r="3.15"/><circle cx="388.66" cy="845.30" r="3.15"/><circle cx="398.57" cy="845.50" r="3.15"/><circle cx="408.48" cy="847.50" r="3.15"/><circle cx="418.39" cy="845.20" r="3.15"/><circle cx="428.30" cy="844.60" r="3.15"/><circle cx="438.21" cy="844.20" r="3.15"/><circle cx="448.12" cy="845.20" r="3.15"/><circle cx="458.03" cy="846.10" r="3.15"/><circle cx="467.94" cy="844.60" r="3.15"/><circle cx="477.85" cy="843.50" r="3.15"/><circle cx="487.75" cy="845.60" r="3.15"/><circle cx="497.66" cy="845.40" r="3.15"/><circle cx="507.57" cy="844.50" r="3.15"/><circle cx="517.48" cy="843.50" r="3.15"/><circle cx="527.39" cy="843.50" r="3.15"/></g>
<polyline points="41.85,979.80 51.76,979.20 61.67,979.20 71.58,979.20 81.49,980.70 91.39,977.70 101.30,978.10 111.21,978.50 121.12,977.70 131.03,977.70 140.94,978.50 150.85,979.20 160.76,977.70 170.67,978.10 180.58,977.20 190.48,977.70 200.39,978.10 210.30,979.80 220.21,977.00 230.12,976.30 240.03,977.00 249.94,977.70 259.85,977.70 269.76,978.50 279.67,975.90 289.57,977.70 299.48,978.50 309.39,977.00 319.30,978.10 329.21,978.10 339.12,978.50 349.03,977.00 358.94,977.70 368.85,976.50 378.76,976.70 388.66,978.90 398.57,977.40 408.48,976.70 418.39,978.00 428.30,976.70 438.21,977.40 448.12,978.30 458.03,978.00 467.94,977.40 477.85,975.80 487.75,977.40 497.66,978.90 507.57,978.90 517.48,976.70 527.39,978.00" fill="none" stroke="#0ccc0c" stroke-width="1.75" stroke-linejoin="round"/>
<g fill="#0ccc0c"><circle cx="41.85" cy="979.80" r="3.15"/><circle cx="51.76" cy="979.20" r="3.15"/><circle cx="61.67" cy="979.20" r="3.15"/><circle cx="71.58" cy="979.20" r="3.15"/><circle cx="81.49" cy="980.70" r="3.15"/><circle cx="91.39" cy="977.70" r="3.15"/><circle cx="101.30" cy="978.10" r="3.15"/><circle cx="111.21" cy="978.50" r="3.15"/><circle cx="121.12" cy="977.70" r="3.15"/><circle cx="131.03" cy="977.70" r="3.15"/><circle cx="140.94" cy="978.50" r="3.15"/><circle cx="150.85" cy="979.20" r="3.15"/><circle cx="160.76" cy="977.70" r="3.15"/><circle cx="170.67" cy="978.10" r="3.15"/><circle cx="180.58" cy="977.20" r="3.15"/><circle cx="190.48" cy="977.70" r="3.15"/><circle cx="200.39" cy="978.10" r="3.15"/><circle cx="210.30" cy="979.80" r="3.15"/><circle cx="220.21" cy="977.00" r="3.15"/><circle cx="230.12" cy="976.30" r="3.15"/><circle cx="240.03" cy="977.00" r="3.15"/><circle cx="249.94" cy="977.70" r="3.15"/><circle cx="259.85" cy="977.70" r="3.15"/><circle cx="269.76" cy="978.50" r="3.15"/><circle cx="279.67" cy="975.90" r="3.15"/><circle cx="289.57" cy="977.70" r="3.15"/><circle cx="299.48" cy="978.50" r="3.15"/><circle cx="309.39" cy="977.00" r="3.15"/><circle cx="319.30" cy="978.10" r="3.15"/><circle cx="329.21" cy="978.10" r="3.15"/><circle cx="339.12" cy="978.50" r="3.15"/><circle cx="349.03" cy="977.00" r="3.15"/><circle cx="358.94" cy="977.70" r="3.15"/><circle cx="368.85" cy="976.50" r="3.15"/><circle cx="378.76" cy="976.70" r="3.15"/><circle cx="388.66" cy="978.90" r="3.15"/><circle cx="398.57" cy="977.40" r="3.15"/><circle cx="408.48" cy="976.70" r="3.15"/><circle cx="418.39" cy="978.00" r="3.15"/><circle cx="428.30" cy="976.70" r="3.15"/><circle cx="438.21" cy="977.40" r="3.15"/><circle cx="448.12" cy="978.30" r="3.15"/><circle cx="458.03" cy="978.00" r="3.15"/><circle cx="467.94" cy="977.40" r="3.15"/><circle cx="477.85" cy="975.80" r="3.15"/><circle cx="487.75" cy="977.40" r="3.15"/><circle cx="497.66" cy="978.90" r="3.15"/><circle cx="507.57" cy="978.90" r="3.15"/><circle cx="517.48" cy="976.70" r="3.15"/><circle cx="527.39" cy="978.00" r="3.15"/></g>
<polyline points="41.85,1121.90 51.76,1123.00 61.67,1123.00 71.58,1119.50 81.49,1121.00 91.39,1121.90 101.30,1120.10 111.21,1120.10 121.12,1121.00 131.03,1120.10 140.94,1121.90 150.85,1121.00 160.76,1121.00 170.67,1121.90 180.58,1119.50 190.48,1119.40 200.39,1119.70 210.30,1119.10 220.21,1120.70 230.12,1119.70 240.03,1121.40 249.94,1122.00 259.85,1119.70 269.76,1119.70 279.67,1119.70 289.57,1119.70 299.48,1119.70 309.39,1122.00 319.30,1119.70 329.21,1118.70 339.12,1119.70 349.03,1120.40 358.94,1120.20 368.85,1120.70 378.76,1120.70 388.66,1119.10 398.57,1119.70 408.48,1118.70 418.39,1119.70 428.30,1119.70 438.21,1118.70 448.12,1119.70 458.03,1120.40 467.94,1119.70 477.85,1119.70 487.75,1119.10 497.66,1118.70 507.57,1120.40 517.48,1119.70 527.39,1118.10" fill="none" stroke="#0a0aff" stroke-width="1.75" stroke-linejoin="round"/>
<g fill="#0a0aff"><circle cx="41.85" cy="1121.90" r="3.15"/><circle cx="51.76" cy="1123.00" r="3.15"/><circle cx="61.67" cy="1123.00" r="3.15"/><circle cx="71.58" cy="1119.50" r="3.15"/><circle cx="81.49" cy="1121.00" r="3.15"/><circle cx="91.39" cy="1121.90" r="3.15"/><circle cx="101.30" cy="1120.10" r="3.15"/><circle cx="111.21" cy="1120.10" r="3.15"/><circle cx="121.12" cy="1121.00" r="3.15"/><circle cx="131.03" cy="1120.10" r="3.15"/><circle cx="140.94" cy="1121.90" r="3.15"/><circle cx="150.85" cy="1121.00" r="3.15"/><circle cx="160.76" cy="1121.00" r="3.15"/><circle cx="170.67" cy="1121.90" r="3.15"/><circle cx="180.58" cy="1119.50" r="3.15"/><circle cx="190.48" cy="1119.40" r="3.15"/><circle cx="200.39" cy="1119.70" r="3.15"/><circle cx="210.30" cy="1119.10" r="3.15"/><circle cx="220.21" cy="1120.70" r="3.15"/><circle cx="230.12" cy="1119.70" r="3.15"/><circle cx="240.03" cy="1121.40" r="3.15"/><circle cx="249.94" cy="1122.00" r="3.15"/><circle cx="259.85" cy="1119.70" r="3.15"/><circle cx="269.76" cy="1119.70" r="3.15"/><circle cx="279.67" cy="1119.70" r="3.15"/><circle cx="289.57" cy="1119.70" r="3.15"/><circle cx="299.48" cy="1119.70" r="3.15"/><circle cx="309.39" cy="1122.00" r="3.15"/><circle cx="319.30" cy="1119.70" r="3.15"/><circle cx="329.21" cy="1118.70" r="3.15"/><circle cx="339.12" cy="1119.70" r="3.15"/><circle cx="349.03" cy="1120.40" r="3.15"/><circle cx="358.94" cy="1120.20" r="3.15"/><circle cx="368.85" cy="1120.70" r="3.15"/><circle cx="378.76" cy="1120.70" r="3.15"/><circle cx="388.66" cy="1119.10" r="3.15"/><circle cx="398.57" cy="1119.70" r="3.15"/><circle cx="408.48" cy="1118.70" r="3.15"/><circle cx="418.39" cy="1119.70" r="3.15"/><circle cx="428.30" cy="1119.70" r="3.15"/><circle cx="438.21" cy="1118.70" r="3.15"/><circle cx="448.12" cy="1119.70" r="3.15"/><circle cx="458.03" cy="1120.40" r="3.15"/><circle cx="467.94" cy="1119.70" r="3.15"/><circle cx="477.85" cy="1119.70" r="3.15"/><circle cx="487.75" cy="1119.10" r="3.15"/><circle cx="497.66" cy="1118.70" r="3.15"/><circle cx="507.57" cy="1120.40" r="3.15"/><circle cx="517.48" cy="1119.70" r="3.15"/><circle cx="527.39" cy="1118.10" r="3.15"/></g>
</g>
<rect x="46.5" y="1038.7" width="95" height="82" rx="2" fill="#fff" fill-opacity="0.8" stroke="#dcdcdc" stroke-width="0.8"/>
<line x1="49.0" y1="1046.10" x2="67.9" y2="1046.10" stroke="#ff1010" stroke-width="1.75"/>
<circle cx="58.5" cy="1046.10" r="3.15" fill="#ff1010"/>
<text x="74.5" y="1049.20" font-size="8.8" fill="#222">SEAM-Unet++</text>
<line x1="49.0" y1="1059.40" x2="67.9" y2="1059.40" stroke="#fb9a0a" stroke-width="1.75"/>
<circle cx="58.5" cy="1059.40" r="3.15" fill="#fb9a0a"/>
<text x="74.5" y="1062.50" font-size="8.8" fill="#222">Unet++</text>
<line x1="49.0" y1="1072.70" x2="67.9" y2="1072.70" stroke="#1060bf" stroke-width="1.75"/>
<circle cx="58.5" cy="1072.70" r="3.15" fill="#1060bf"/>
<text x="74.5" y="1075.80" font-size="8.8" fill="#222">Unet</text>
<line x1="49.0" y1="1086.00" x2="67.9" y2="1086.00" stroke="#452ea6" stroke-width="1.75"/>
<circle cx="58.5" cy="1086.00" r="3.15" fill="#452ea6"/>
<text x="74.5" y="1089.10" font-size="8.8" fill="#222">Kun Lan`s</text>
<line x1="49.0" y1="1099.30" x2="67.9" y2="1099.30" stroke="#0ccc0c" stroke-width="1.75"/>
<circle cx="58.5" cy="1099.30" r="3.15" fill="#0ccc0c"/>
<text x="74.5" y="1102.40" font-size="8.8" fill="#222">DeepLab</text>
<line x1="49.0" y1="1112.60" x2="67.9" y2="1112.60" stroke="#0a0aff" stroke-width="1.75"/>
<circle cx="58.5" cy="1112.60" r="3.15" fill="#0a0aff"/>
<text x="74.5" y="1115.70" font-size="8.8" fill="#222">PSPNet</text>
<rect x="41.85" y="830.4" width="495.45" height="295.90" fill="none" stroke="#505050" stroke-width="1.1"/>
<line x1="38.85" y1="850.2" x2="41.85" y2="850.2" stroke="#222" stroke-width="0.8"/>
<text x="34.95" y="853.40" font-size="8.7" text-anchor="end" fill="#222">0.94</text>
<line x1="38.85" y1="889.642857142857" x2="41.85" y2="889.642857142857" stroke="#222" stroke-width="0.8"/>
<text x="34.95" y="892.84" font-size="8.7" text-anchor="end" fill="#222">0.92</text>
<line x1="38.85" y1="929.0857142857142" x2="41.85" y2="929.0857142857142" stroke="#222" stroke-width="0.8"/>
<text x="34.95" y="932.29" font-size="8.7" text-anchor="end" fill="#222">0.90</text>
<line x1="38.85" y1="968.5285714285714" x2="41.85" y2="968.5285714285714" stroke="#222" stroke-width="0.8"/>
<text x="34.95" y="971.73" font-size="8.7" text-anchor="end" fill="#222">0.88</text>
<line x1="38.85" y1="1007.9714285714286" x2="41.85" y2="1007.9714285714286" stroke="#222" stroke-width="0.8"/>
<text x="34.95" y="1011.17" font-size="8.7" text-anchor="end" fill="#222">0.86</text>
<line x1="38.85" y1="1047.4142857142858" x2="41.85" y2="1047.4142857142858" stroke="#222" stroke-width="0.8"/>
<text x="34.95" y="1050.61" font-size="8.7" text-anchor="end" fill="#222">0.84</text>
<line x1="38.85" y1="1086.8571428571431" x2="41.85" y2="1086.8571428571431" stroke="#222" stroke-width="0.8"/>
<text x="34.95" y="1090.06" font-size="8.7" text-anchor="end" fill="#222">0.82</text>
<line x1="38.85" y1="1126.3" x2="41.85" y2="1126.3" stroke="#222" stroke-width="0.8"/>
<text x="34.95" y="1129.50" font-size="8.7" text-anchor="end" fill="#222">0.80</text>
<line x1="41.85" y1="1126.3" x2="41.85" y2="1129.3" stroke="#222" stroke-width="0.8"/>
<text x="41.85" y="1139.7" font-size="8.7" text-anchor="middle" fill="#222">150</text>
<line x1="140.94" y1="1126.3" x2="140.94" y2="1129.3" stroke="#222" stroke-width="0.8"/>
<text x="140.94" y="1139.7" font-size="8.7" text-anchor="middle" fill="#222">160</text>
<line x1="240.03" y1="1126.3" x2="240.03" y2="1129.3" stroke="#222" stroke-width="0.8"/>
<text x="240.03" y="1139.7" font-size="8.7" text-anchor="middle" fill="#222">170</text>
<line x1="339.12" y1="1126.3" x2="339.12" y2="1129.3" stroke="#222" stroke-width="0.8"/>
<text x="339.12" y="1139.7" font-size="8.7" text-anchor="middle" fill="#222">180</text>
<line x1="438.21" y1="1126.3" x2="438.21" y2="1129.3" stroke="#222" stroke-width="0.8"/>
<text x="438.21" y="1139.7" font-size="8.7" text-anchor="middle" fill="#222">190</text>
<line x1="537.30" y1="1126.3" x2="537.30" y2="1129.3" stroke="#222" stroke-width="0.8"/>
<text x="537.30" y="1139.7" font-size="8.7" text-anchor="middle" fill="#222">200</text>
<text x="289.6" y="1151.1" font-size="8.7" text-anchor="middle" fill="#222">Epoch</text>
<text transform="translate(10.4,979.6) rotate(-90)" font-size="8.6" text-anchor="middle" fill="#222">Dice</text>
<text x="202" y="1187.5" font-family="'DejaVu Serif', 'Liberation Serif', serif" font-size="15.6" fill="#111">(<tspan font-weight="bold">f</tspan>) Dice comparison</text>
</svg>
</body></html>
